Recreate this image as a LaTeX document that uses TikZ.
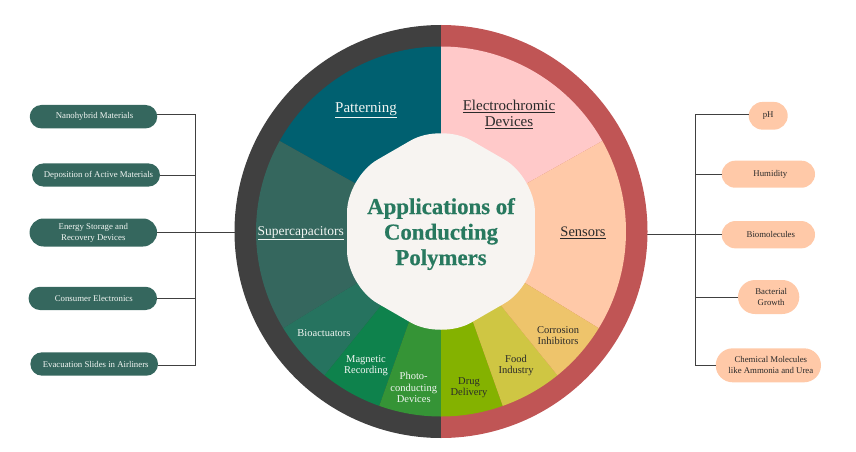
\documentclass[tikz,border=0pt]{standalone}
\usepackage{fontspec}
\setmainfont{Liberation Serif}
\newfontfamily\titlefont[FakeBold=0.6]{Liberation Serif Bold}
\usetikzlibrary{calc,shapes.misc}
\definecolor{ringdark}{HTML}{404040}
\definecolor{ringred}{HTML}{C05555}
\definecolor{teal}{HTML}{006070}
\definecolor{pinkc}{HTML}{FFC9C9}
\definecolor{peach}{HTML}{FFC9A8}
\definecolor{superc}{HTML}{35675E}
\definecolor{bioc}{HTML}{26735F}
\definecolor{magc}{HTML}{0E824C}
\definecolor{photoc}{HTML}{359436}
\definecolor{drugc}{HTML}{84B200}
\definecolor{foodc}{HTML}{CFC643}
\definecolor{corrc}{HTML}{EEC46B}
\definecolor{hubc}{HTML}{F7F4F1}
\definecolor{titlec}{HTML}{28795F}
\definecolor{inkc}{HTML}{2A2A2A}
\definecolor{paper}{HTML}{F2F6F3}
\newcommand{\sectorfill}[3]{\fill[#3] (c) -- ($(c)+(#1:185)$) arc[start angle=#1,end angle=#2,radius=185] -- cycle;}
\tikzset{
  x=1pt,y=-1pt,
  pillbase/.style={rounded rectangle,inner sep=0pt,align=center,font=\fontsize{8.8}{11.2}\selectfont},
  leftpill/.style={pillbase,fill=superc,text=paper},
  rightpill/.style={pillbase,fill=peach,text=inkc},
  link/.style={draw=ringdark,line width=0.9pt},
  biglabel/.style={align=center,font=\fontsize{#1}{15.7}\selectfont},
  smalllabel/.style={align=center,font=\fontsize{10.5}{11.2}\selectfont},
}
\begin{document}
\begin{tikzpicture}
\useasboundingbox (0,0) rectangle (856,452);
\coordinate (c) at (441,231.5);
\node[circle,minimum size=413pt,inner sep=0pt] (disc) at (c) {};
% left pills
\node[leftpill,minimum width=127.5pt,minimum height=23.5pt] (n1) at (93.5,116.7) {\hspace*{2pt}Nanohybrid Materials};
\node[leftpill,minimum width=128pt,minimum height=23.2pt] (n2) at (96,175) {\hspace*{5pt}Deposition of Active Materials};
\node[leftpill,minimum width=127.5pt,minimum height=28pt] (n3) at (93.3,232.5) {Energy Storage and\\Recovery Devices};
\node[leftpill,minimum width=128.5pt,minimum height=23.3pt] (n4) at (92.8,298.4) {\hspace*{2pt}Consumer Electronics};
\node[leftpill,minimum width=127.7pt,minimum height=23.4pt] (n5) at (94.2,364) {\hspace*{3pt}Evacuation Slides in Airliners};
% right pills
\node[rightpill,minimum width=39pt,minimum height=27.7pt] (r1) at (768.2,115.8) {pH};
\node[rightpill,minimum width=93.3pt,minimum height=27pt] (r2) at (768.35,174.2) {\hspace*{4pt}Humidity};
\node[rightpill,minimum width=93.3pt,minimum height=27.3pt] (r3) at (768.35,234.7) {\hspace*{5pt}Biomolecules};
\node[rightpill,minimum width=61.3pt,minimum height=34pt] (r4) at (768.65,297) {\hspace*{5pt}Bacterial\\\hspace*{5pt}Growth};
\node[rightpill,minimum width=105.3pt,minimum height=34pt] (r5) at (768.35,365.3) {\hspace*{5pt}Chemical Molecules\\\hspace*{5pt}like Ammonia and Urea};
% buses
\coordinate (busL) at (195.7,231);
\coordinate (busR) at (695.3,231);
\draw[link] (n1.east |- 0,114.7) -- (busL |- 0,114.7) -- (busL |- 0,365.7) -- (n5.east |- 0,365.7);
\draw[link] (n2.east) -- (n2.east -| busL);
\draw[link] (n3.east) -- (n3.east -| disc.center);
\draw[link] (n4.east) -- (n4.east -| busL);
\draw[link] (r1.west |- 0,114.7) -- (busR |- 0,114.7) -- (busR |- r5.west) -- (r5.west);
\draw[link] (r2.west) -- (r2.west -| busR);
\draw[link] (r3.west) -- (r3.west -| disc.center);
\draw[link] (r4.west) -- (r4.west -| busR);
% wheel
\begin{scope}[y=1pt]
\fill[ringdark] (c) -- ($(c)+(90:206.5)$) arc[start angle=90,end angle=270,radius=206.5] -- cycle;
\fill[ringred] (c) -- ($(c)+(270:206.5)$) arc[start angle=270,end angle=450,radius=206.5] -- cycle;
\sectorfill{90}{150.7}{teal}
\sectorfill{29.3}{90}{pinkc}
\sectorfill{-31.5}{29.3}{peach}
\sectorfill{150.7}{211.5}{superc}
\sectorfill{211.5}{231}{bioc}
\sectorfill{231}{250.5}{magc}
\sectorfill{250.5}{270}{photoc}
\sectorfill{270}{289.5}{drugc}
\sectorfill{289.5}{309}{foodc}
\sectorfill{309}{328.5}{corrc}
\fill[hubc,rounded corners=35pt] ($(c)+(90:108.5)$) -- ($(c)+(150:108.5)$) -- ($(c)+(210:108.5)$) -- ($(c)+(270:108.5)$) -- ($(c)+(330:108.5)$) -- ($(c)+(30:108.5)$) -- cycle;
\end{scope}
\node[align=center,text=titlec,font=\titlefont\fontsize{22.8}{25.5}\selectfont] (title) at (441,234) {Applications of\\Conducting\\Polymers};
\node[biglabel=15,text=paper] (patterning) at (366,110.5) {\underline{Patterning}};
\node[biglabel=15,text=inkc] (electro) at (509,114.5) {\underline{Electrochromic}\\\underline{Devices}};
\node[biglabel=13.5,text=paper] (super) at (300.7,233) {\underline{Supercapacitors}};
\node[biglabel=14.5,text=inkc] (sensors) at (583,233) {\underline{Sensors}};
\node[smalllabel,text=paper] (bio) at (324,332.7) {Bioactuators};
\node[smalllabel,text=paper] (mag) at (366,365.5) {Magnetic\\Recording};
\node[smalllabel,text=paper] (photo) at (413.7,387.5) {Photo-\\conducting\\Devices};
\node[smalllabel,text=inkc] (drug) at (469,388) {Drug\\Delivery};
\node[smalllabel,text=inkc] (food) at (516,365.5) {Food\\Industry};
\node[smalllabel,text=inkc] (corr) at (558,335.5) {Corrosion\\Inhibitors};
\end{tikzpicture}
\end{document}
